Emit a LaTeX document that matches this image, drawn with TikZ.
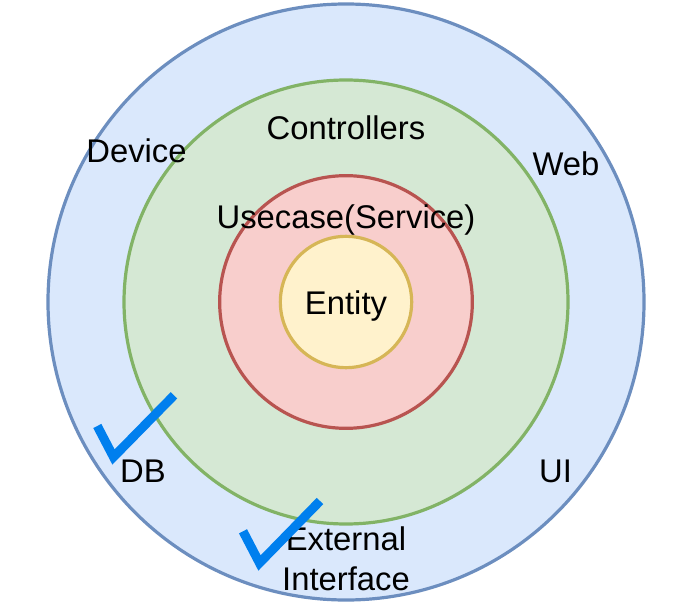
\documentclass[tikz,border=0pt]{standalone}
\usepackage{fontspec}
\setmainfont{Liberation Sans}
\definecolor{bluefill}{HTML}{DAE8FC}
\definecolor{blueline}{HTML}{6C8EBF}
\definecolor{greenfill}{HTML}{D5E8D4}
\definecolor{greenline}{HTML}{82B366}
\definecolor{redfill}{HTML}{F8CECC}
\definecolor{redline}{HTML}{B85450}
\definecolor{yellowfill}{HTML}{FFF2CC}
\definecolor{yellowline}{HTML}{D6B656}
\definecolor{tick}{HTML}{007FEE}
\tikzset{x=0.75pt,y=-0.75pt,
 ring/.style={circle,inner sep=0pt,line width=2.4pt},
 lbl/.style={font=\fontsize{24.6}{25}\selectfont,text=black,inner sep=0pt,align=center},
 tickmark/.style={draw=tick,line width=6.8pt,line cap=butt,line join=miter}}
\begin{document}
\begin{tikzpicture}
\useasboundingbox (0,0) rectangle (673,609);
\node[ring,draw=blueline,fill=bluefill,minimum size=447pt] (outer) at (346,302) {};
\node[ring,draw=greenline,fill=greenfill,minimum size=333pt] (mid) at (346,302) {};
\node[ring,draw=redline,fill=redfill,minimum size=189.5pt] (usecase) at (346,302) {};
\node[ring,draw=yellowline,fill=yellowfill,minimum size=98.5pt] (entity) at (346,302) {};
\node[lbl] (t1) at (346,306.5) {Entity};
\node[lbl] (t2) at (346,220.5) {Usecase(Service)};
\node[lbl] (t3) at (346,128) {Controllers};
\node[lbl] (t4) at (136.5,151) {Device};
\node[lbl] (t5) at (566,164) {Web};
\node[lbl] (t6) at (143,471) {DB};
\node[lbl] (t7) at (555.5,471) {UI};
\node[lbl] (t8) at (346,539) {External};
\node[lbl] (t9) at (346,579) {Interface};
\coordinate (a1) at (97.3,426);
\coordinate (a2) at (113.5,457);
\coordinate (a3) at (174,395.3);
\coordinate (b1) at (243,531.3);
\coordinate (b2) at (259.5,563);
\coordinate (b3) at (320,501);
\draw[tickmark] (a1) -- (a2) -- (a3);
\draw[tickmark] (b1) -- (b2) -- (b3);
\end{tikzpicture}
\end{document}
